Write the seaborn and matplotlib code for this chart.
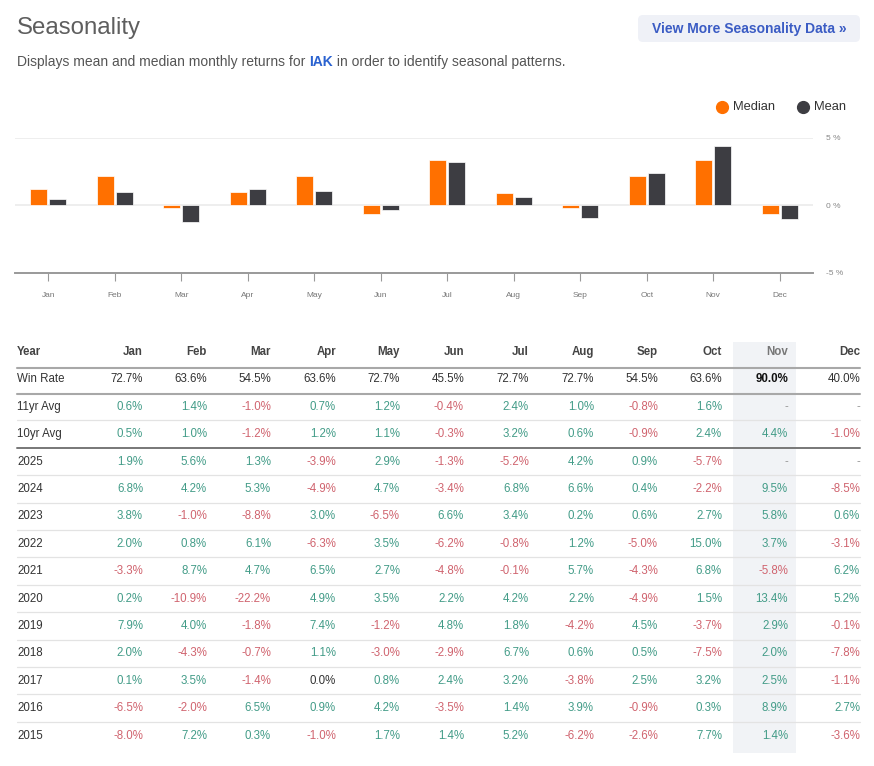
import matplotlib
matplotlib.use("Agg")
import matplotlib.pyplot as plt
import seaborn as sns
import pandas as pd
from matplotlib.patches import FancyBboxPatch, Rectangle
from matplotlib.lines import Line2D

# ---------------- data ----------------
months = ["Jan", "Feb", "Mar", "Apr", "May", "Jun", "Jul", "Aug", "Sep", "Oct", "Nov", "Dec"]
median_vals = [1.2, 2.2, -0.2, 1.0, 2.2, -0.6, 3.4, 0.9, -0.2, 2.2, 3.4, -0.6]
mean_vals = [0.5, 1.0, -1.2, 1.2, 1.1, -0.3, 3.2, 0.6, -0.9, 2.4, 4.4, -1.0]
y_ticks = [-5, 0, 5]
y_tick_labels = ["-5 %", "0 %", "5 %"]

win_rate = [72.7, 63.6, 54.5, 63.6, 72.7, 45.5, 72.7, 72.7, 54.5, 63.6, 90.0, 40.0]
avg_11yr = [0.6, 1.4, -1.0, 0.7, 1.2, -0.4, 2.4, 1.0, -0.8, 1.6, None, None]
avg_10yr = [0.5, 1.0, -1.2, 1.2, 1.1, -0.3, 3.2, 0.6, -0.9, 2.4, 4.4, -1.0]
years = [2025, 2024, 2023, 2022, 2021, 2020, 2019, 2018, 2017, 2016, 2015]
year_returns = [
    [1.9, 5.6, 1.3, -3.9, 2.9, -1.3, -5.2, 4.2, 0.9, -5.7, None, None],
    [6.8, 4.2, 5.3, -4.9, 4.7, -3.4, 6.8, 6.6, 0.4, -2.2, 9.5, -8.5],
    [3.8, -1.0, -8.8, 3.0, -6.5, 6.6, 3.4, 0.2, 0.6, 2.7, 5.8, 0.6],
    [2.0, 0.8, 6.1, -6.3, 3.5, -6.2, -0.8, 1.2, -5.0, 15.0, 3.7, -3.1],
    [-3.3, 8.7, 4.7, 6.5, 2.7, -4.8, -0.1, 5.7, -4.3, 6.8, -5.8, 6.2],
    [0.2, -10.9, -22.2, 4.9, 3.5, 2.2, 4.2, 2.2, -4.9, 1.5, 13.4, 5.2],
    [7.9, 4.0, -1.8, 7.4, -1.2, 4.8, 1.8, -4.2, 4.5, -3.7, 2.9, -0.1],
    [2.0, -4.3, -0.7, 1.1, -3.0, -2.9, 6.7, 0.6, 0.5, -7.5, 2.0, -7.8],
    [0.1, 3.5, -1.4, 0.0, 0.8, 2.4, 3.2, -3.8, 2.5, 3.2, 2.5, -1.1],
    [-6.5, -2.0, 6.5, 0.9, 4.2, -3.5, 1.4, 3.9, -0.9, 0.3, 8.9, 2.7],
    [-8.0, 7.2, 0.3, -1.0, 1.7, 1.4, 5.2, -6.2, -2.6, 7.7, 1.4, -3.6],
]
highlight_month = "Nov"

# ---------------- style ----------------
sns.set_theme(style="white")
plt.rcParams["font.family"] = ["Liberation Sans", "DejaVu Sans"]

ORANGE = "#ff7000"
DARK = "#3d3d42"
GREEN = "#439c88"
RED = "#d0646f"
TXT = "#333333"

W, H = 874, 766
fig = plt.figure(figsize=(W / 100, H / 100), dpi=100)

# overlay in pixel coordinates for header and table
ov = fig.add_axes([0, 0, 1, 1], zorder=0)
ov.set_xlim(0, W)
ov.set_ylim(H, 0)
ov.axis("off")

# ---------------- header ----------------
ov.text(17, 28, "Seasonality", fontsize=17.3, color="#5e5e5e", va="center", ha="left")
btn = FancyBboxPatch((638, 15), 222, 27, boxstyle="round,pad=0,rounding_size=5",
                     facecolor="#eff1f7", edgecolor="none")
ov.add_patch(btn)
ov.text(749, 28.5, "View More Seasonality Data »", fontsize=10, fontweight="bold",
        color="#3b5cc4", va="center", ha="center")

t1 = ov.text(17, 62, "Displays mean and median monthly returns for ", fontsize=10,
             color="#555555", va="center", ha="left")
t2 = ov.annotate("IAK", xy=(1, 0), xycoords=t1, va="bottom", ha="left",
                 fontsize=10, fontweight="bold", color="#2a62d0")
t3 = ov.annotate(" in order to identify seasonal patterns.", xy=(1, 0), xycoords=t2,
                 va="bottom", ha="left", fontsize=10, color="#555555")

# legend
for xm, lab, col in [(722, "Median", ORANGE), (803, "Mean", DARK)]:
    ov.plot([xm], [107], marker="o", markersize=8.5, color=col, linestyle="none")
    ov.text(xm + 11, 107.5, lab, fontsize=9.3, color=TXT, va="center", ha="left")

# ---------------- bar chart ----------------
ax = fig.add_axes([15 / W, (H - 273) / H, 798 / W, 135 / H], zorder=2)
ax.patch.set_alpha(0)
df = pd.DataFrame({
    "Month": months * 2,
    "Value": median_vals + mean_vals,
    "Series": ["Median"] * len(months) + ["Mean"] * len(months),
})
sns.barplot(data=df, x="Month", y="Value", hue="Series", hue_order=["Median", "Mean"],
            order=months, palette=[ORANGE, DARK], saturation=1, width=0.57, gap=0.1,
            errorbar=None, edgecolor="#ffffff", linewidth=0.5, legend=False, ax=ax, zorder=3)
ax.set_xlim(-0.5, len(months) - 0.5)
ax.set_ylim(-5, 5)
ax.set_xlabel("")
ax.set_ylabel("")
for s in ["top", "left", "right"]:
    ax.spines[s].set_visible(False)
ax.spines["bottom"].set_color("#999999")
ax.spines["bottom"].set_linewidth(1.4)
ax.yaxis.tick_right()
ax.set_yticks(y_ticks)
ax.set_yticklabels(y_tick_labels)
ax.tick_params(axis="y", length=0, pad=9, labelsize=6, labelcolor="#888888")
ax.tick_params(axis="x", length=5.5, width=0.8, color="#999999", pad=8,
               labelsize=6, labelcolor="#777777", bottom=True)
for yv in [0, 5]:
    ax.axhline(yv, color="#e9e9e9", linewidth=1.1, zorder=1)
ax.grid(False)

# ---------------- table ----------------
col_right = [143, 207, 271, 336, 400, 464, 529, 594, 658, 722, 788, 860]
x_left = 17
row_y0 = 352
row_step = 27.4
fs = 8.3

hi = months.index(highlight_month)
ov.add_patch(Rectangle((733, 342), 63, 411, facecolor="#f1f3f6", edgecolor="none", zorder=0))


def fmt(v):
    if v is None:
        return "-", "#999999"
    if v > 0:
        return f"{v:.1f}%", GREEN
    if v < 0:
        return f"{v:.1f}%", RED
    return f"{v:.1f}%", TXT


def hline(y, color, lw):
    ov.add_line(Line2D([17, 860], [y, y], color=color, linewidth=lw, zorder=1))


# header row
y = row_y0
ov.text(x_left, y, "Year", fontsize=fs, fontweight="bold", color="#444444", va="center")
for i, m in enumerate(months):
    ov.text(col_right[i], y, m, fontsize=fs, fontweight="bold",
            color="#777777" if i == hi else "#444444", va="center", ha="right")
hline(y + 16, "#a8a8a8", 1.5)

# win rate
y += row_step
ov.text(x_left, y, "Win Rate", fontsize=fs, color=TXT, va="center")
for i, v in enumerate(win_rate):
    ov.text(col_right[i], y, f"{v:.1f}%", fontsize=fs, color="#111111" if i == hi else TXT,
            fontweight="bold" if i == hi else "normal", va="center", ha="right")
hline(y + 14.5, "#a8a8a8", 1.5)

rows = [("11yr Avg", avg_11yr), ("10yr Avg", avg_10yr)] + \
       [(str(yr), vals) for yr, vals in zip(years, year_returns)]
for k, (label, vals) in enumerate(rows):
    y += row_step
    ov.text(x_left, y, label, fontsize=fs, color=TXT, va="center")
    for i, v in enumerate(vals):
        s, c = fmt(v)
        ov.text(col_right[i], y, s, fontsize=fs, color=c, va="center", ha="right")
    if k == len(rows) - 1:
        break
    if label == "10yr Avg":
        hline(y + 13.7, "#777777", 1.4)
    else:
        hline(y + 13.7, "#e3e3e3", 0.9)

fig.savefig("out.png", dpi=100, facecolor="white")
